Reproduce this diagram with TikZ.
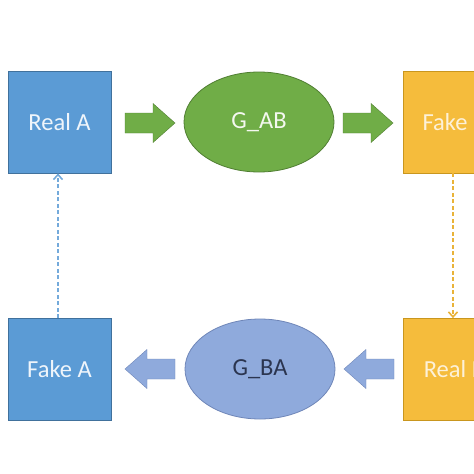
\documentclass[tikz,border=0pt]{standalone}
\usepackage{fontspec}
\setmainfont{Carlito}
\usetikzlibrary{calc,shapes.geometric,arrows.meta}

\definecolor{boxblue}{HTML}{5B9BD5}
\definecolor{boxblueline}{HTML}{41719C}
\definecolor{boxgold}{HTML}{F5BC3C}
\definecolor{boxgoldline}{HTML}{C9961E}
\definecolor{gengreen}{HTML}{70AD47}
\definecolor{gengreenline}{HTML}{507E32}
\definecolor{genlilac}{HTML}{8FAADC}
\definecolor{genlilacline}{HTML}{6F86B8}
\definecolor{lilactext}{HTML}{2B3550}

\tikzset{
	imgbox/.style={rectangle, minimum width=103pt, minimum height=102pt, inner sep=0pt, line width=0.8pt, font=\fontsize{24.5}{28}\selectfont},
	genblob/.style={ellipse, minimum width=150pt, minimum height=100pt, inner sep=0pt, line width=0.8pt, font=\fontsize{24.5}{28}\selectfont},
	cycleline/.style={line width=1.6pt, dash pattern=on 4pt off 2.5pt, -{Straight Barb[length=5pt,width=9pt]}}
}

% block arrow from #2 to #3, fill #1
\def\blockarrow[#1](#2)(#3){
	\fill[#1] let \p1=(#2), \p2=(#3), \n1={ifthenelse(\x2>\x1,1,-1)} in
		(\x1, \y1-10) -- (\x2-22*\n1, \y1-10) -- (\x2-22*\n1, \y1-19.5) -- (\x2, \y1)
		-- (\x2-22*\n1, \y1+19.5) -- (\x2-22*\n1, \y1+10) -- (\x1, \y1+10) -- cycle;
}

\begin{document}
\begin{tikzpicture}[x=1pt, y=-1pt]
		%%%%% START %%%%%
		\useasboundingbox (0, 0) rectangle (474, 474);
		\clip (0, 0) rectangle (474, 474);
		
		\node[imgbox, fill=boxblue, draw=boxblueline, text=white!90!boxblue] (realA) at (59.5, 122) {Real A};
		\node[genblob, fill=gengreen, draw=gengreenline, text=white!92!gengreen] (gab) at (259, 122) {G\_AB};
		\node[imgbox, fill=boxgold, draw=boxgoldline, text=white!80!boxgold] (fakeB) at (454.5, 122) {Fake B};
		
		\node[imgbox, fill=boxblue, draw=boxblueline, text=white!90!boxblue] (fakeA) at (59.5, 369.5) {Fake A};
		\node[genblob, fill=genlilac, draw=genlilacline, text=lilactext] (gba) at (260, 369) {G\_BA};
		\node[imgbox, fill=boxgold, draw=boxgoldline, text=white!80!boxgold] (realB) at (454.5, 369.5) {Real B};
		
		% generator arrows
		\coordinate (ab1) at (125, 123);
		\coordinate (ab2) at (175, 123);
		\coordinate (ab3) at (343, 123);
		\coordinate (ab4) at (393, 123);
		\coordinate (ba1) at (394, 369);
		\coordinate (ba2) at (344, 369);
		\coordinate (ba3) at (175, 369);
		\coordinate (ba4) at (125, 369);
		
		\blockarrow[fill=gengreen, draw=gengreenline](ab1)(ab2)
		\blockarrow[fill=gengreen, draw=gengreenline](ab3)(ab4)
		\blockarrow[fill=genlilac, draw=genlilacline](ba1)(ba2)
		\blockarrow[fill=genlilac, draw=genlilacline](ba3)(ba4)
		
		% cycle links
		\draw[cycleline, color=boxblue!85!white] (fakeA.north -| 58, 0) -- (realA.south -| 58, 0);
		\draw[cycleline, color=boxgold!95!black] (fakeB.south -| 453, 0) -- (realB.north -| 453, 0);
		
		%%%%% END %%%%%
\end{tikzpicture}
\end{document}
